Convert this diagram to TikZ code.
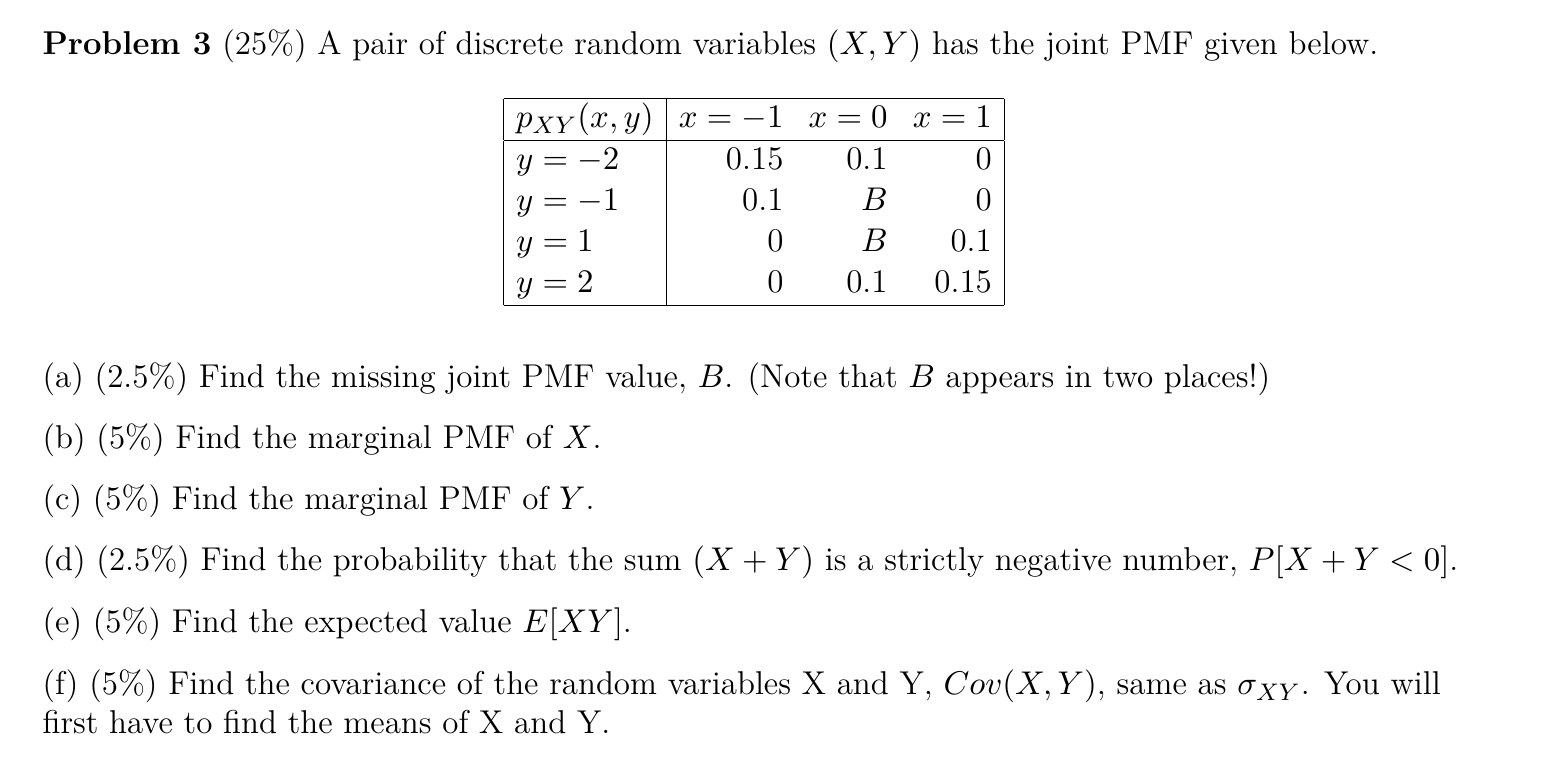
\documentclass[tikz,border=0pt]{standalone}
\usepackage{amsmath}
\begin{document}
\begin{tikzpicture}[x=0.3333pt,y=-0.3333pt,txt/.style={anchor=base west,inner sep=0pt,font=\fontsize{11}{13.6}\selectfont}]
\useasboundingbox (0,0) rectangle (1544,781);
\node[txt] (p) at (42,55) {\textbf{Problem 3} (25\%) A pair of discrete random variables $(X,Y)$ has the joint PMF given below.};
\node[inner sep=0pt,font=\fontsize{11}{13.6}\selectfont] (t) at (754,202) {\setlength{\tabcolsep}{4.2pt}\begin{tabular}{|l|rrr|}\hline
$p_{XY}(x,y)$ & $x=-1$ & $x=0$ & $x=1$\\\hline
$y=-2$ & 0.15 & 0.1 & 0\\
$y=-1$ & 0.1 & $B$ & 0\\
$y=1$ & 0 & $B$ & 0.1\\
$y=2$ & 0 & 0.1 & 0.15\\\hline
\end{tabular}};
\node[txt] (a) at (42,388) {(a) (2.5\%) Find the missing joint PMF value, $B$. (Note that $B$ appears in two places!)};
\node[txt] (b) at (42,449) {(b) (5\%) Find the marginal PMF of $X$.};
\node[txt] (c) at (42,510) {(c) (5\%) Find the marginal PMF of $Y$.};
\node[txt] (d) at (42,571) {(d) (2.5\%) Find the probability that the sum $(X+Y)$ is a strictly negative number, $P[X+Y<0]$.};
\node[txt] (e) at (42,633) {(e) (5\%) Find the expected value $E[XY]$.};
\node[txt] (f) at (42,695) {(f) (5\%) Find the covariance of the random variables X and Y, $Cov(X,Y)$, same as $\sigma_{XY}$. You will};
\node[txt] (g) at (42,733) {first have to find the means of X and Y.};
\end{tikzpicture}
\end{document}
